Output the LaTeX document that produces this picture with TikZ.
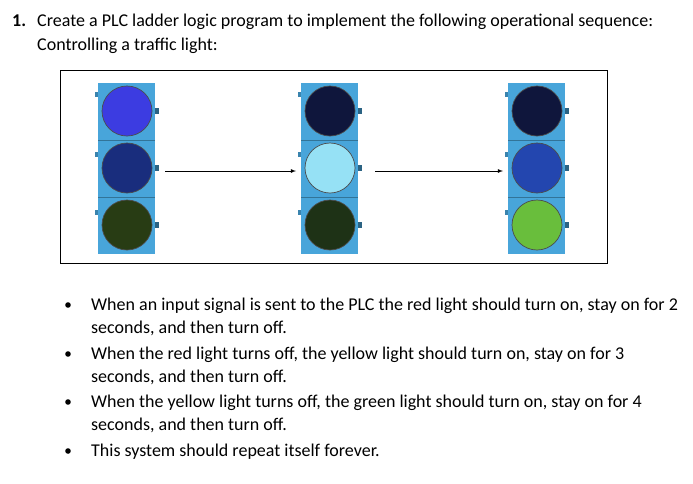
\documentclass[tikz,border=0pt]{standalone}
\usepackage{fontspec}
\setmainfont{Carlito}
\begin{document}
\begin{tikzpicture}[x=1pt,y=-1pt,
  txt/.style={anchor=base west,inner sep=0pt,font=\fontsize{18}{20}\selectfont},
  house/.style={fill=housing,draw=housing!70!black,line width=0.6pt},
  arr/.style={-latex,line width=0.8pt}]
\definecolor{housing}{RGB}{72,165,218}
\useasboundingbox (0,0) rectangle (693,483);
\node[txt,font=\bfseries\fontsize{18}{20}\selectfont] (n1) at (12,26) {1.};
\node[txt] (t1) at (37,26) {Create a PLC ladder logic program to implement the following operational sequence:};
\node[txt] (t2) at (37,50) {Controlling a traffic light:};
\node[draw,line width=0.8pt,minimum width=547pt,minimum height=193pt,anchor=north west,inner sep=0pt] (frame) at (60,70) {};
% lights
\newcommand{\tlight}[5]{%
  \fill[housing] (#1-29,83) rectangle (#1+28,254);
  \foreach \yy in {140,197}{\draw[housing!70!black,line width=0.5pt] (#1-29,\yy) -- (#1+28,\yy);}
  \foreach \yy in {108,165,222}{\fill[housing!60!black] (#1+28,\yy) rectangle (#1+32,\yy+6);}
  \foreach \yy in {92,152,210}{\fill[housing!80!black] (#1-32,\yy) rectangle (#1-29,\yy+5);}
  \node[circle,draw=black!70,line width=0.7pt,fill=#2,minimum size=50pt,inner sep=0pt] (#5a) at (#1,111) {};
  \node[circle,draw=black!70,line width=0.7pt,fill=#3,minimum size=50pt,inner sep=0pt] (#5b) at (#1,168) {};
  \node[circle,draw=black!70,line width=0.7pt,fill=#4,minimum size=50pt,inner sep=0pt] (#5c) at (#1,225) {};
}
\definecolor{ra}{RGB}{60,60,225}\definecolor{ya}{RGB}{25,45,125}\definecolor{ga}{RGB}{40,60,20}
\definecolor{rb}{RGB}{15,22,60}\definecolor{yb}{RGB}{150,225,245}\definecolor{gb}{RGB}{30,50,22}
\definecolor{rc}{RGB}{15,22,60}\definecolor{yc}{RGB}{35,70,175}\definecolor{gc}{RGB}{105,190,60}
\tlight{127}{ra}{ya}{ga}{L1}
\tlight{330}{rb}{yb}{gb}{L2}
\tlight{537}{rc}{yc}{gc}{L3}
\coordinate (a1s) at (165,171); \coordinate (a1e) at (296,171);
\coordinate (a2s) at (375,171); \coordinate (a2e) at (503,171);
\draw[arr] (a1s) -- (a1e);
\draw[arr] (a2s) -- (a2e);
% bullets
\foreach \yy/\tx in {310/{When an input signal is sent to the PLC the red light should turn on, stay on for 2},
  333/{seconds, and then turn off.},
  359/{When the red light turns off, the yellow light should turn on, stay on for 3},
  382/{seconds, and then turn off.},
  407/{When the yellow light turns off, the green light should turn on, stay on for 4},
  430/{seconds, and then turn off.},
  456/{This system should repeat itself forever.}}
  {\node[txt] at (91,\yy) {\tx};}
\foreach \yy in {305,354,402,451}{\fill (68,\yy) circle (2.8pt);}
\end{tikzpicture}
\end{document}
